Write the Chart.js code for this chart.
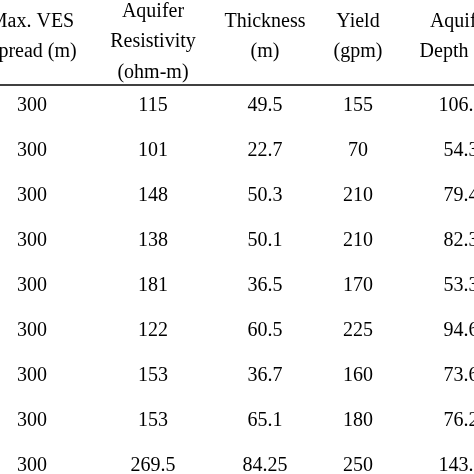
<!DOCTYPE html>
<html>
<head>
<script src="https://cdn.jsdelivr.net/npm/chart.js@4"></script>
<style>body{margin:0;background:#fff}</style>
</head>
<body>
<canvas id="tabla" width="474" height="474"></canvas>
<script>
// columnas de la tabla
const headers = [
  ["Max. VES", "Spread (m)"],
  ["Aquifer", "Resistivity", "(ohm-m)"],
  ["Thickness", "(m)"],
  ["Yield", "(gpm)"],
  ["Aquifer", "Depth (m)"],
];
const spread = ["300", "300", "300", "300", "300", "300", "300", "300", "300"];
const resistivity = ["115", "101", "148", "138", "181", "122", "153", "153", "269.5"];
const thickness = ["49.5", "22.7", "50.3", "50.1", "36.5", "60.5", "36.7", "65.1", "84.25"];
const yieldGpm = ["155", "70", "210", "210", "170", "225", "160", "180", "250"];
const depth = ["106.7", "54.3", "79.4", "82.3", "53.3", "94.6", "73.6", "76.2", "143.9"];

const columns = [spread, resistivity, thickness, yieldGpm, depth];
const colX = [32, 153, 265, 358, 461]; // centro de cada columna en px

const font = "20px 'Liberation Serif', 'DejaVu Serif', serif";

const textPlugin = {
  id: "textoTabla",
  afterDatasetsDraw(chart) {
    const ctx = chart.ctx;
    const xs = chart.scales.x, ys = chart.scales.y;
    ctx.save();
    ctx.font = font;
    ctx.fillStyle = "#000";
    ctx.textAlign = "center";
    ctx.textBaseline = "middle";
    chart.data.datasets.forEach((ds, i) => {
      chart.getDatasetMeta(i).data.forEach((pt, j) => {
        ctx.fillText(ds.labels[j], pt.x, pt.y);
      });
    });
    // encabezados
    headers.forEach((lines, c) => {
      const x = xs.getPixelForValue(colX[c]);
      const start = lines.length === 3 ? -2.09 : -1.87;
      lines.forEach((t, k) => {
        ctx.fillText(t, x, ys.getPixelForValue(start + k * 0.67));
      });
    });
    // línea bajo encabezado
    const yl = ys.getPixelForValue(-0.467);
    ctx.strokeStyle = "#000";
    ctx.lineWidth = 1.5;
    ctx.beginPath();
    ctx.moveTo(0, yl);
    ctx.lineTo(chart.width, yl);
    ctx.stroke();
    ctx.restore();
  },
};

new Chart(document.getElementById("tabla").getContext("2d"), {
  type: "scatter",
  data: {
    datasets: columns.map((col, c) => ({
      labels: col,
      data: col.map((v, r) => ({ x: colX[c], y: r })),
      pointRadius: 0,
    })),
  },
  options: {
    responsive: false,
    animation: false,
    layout: { padding: 0 },
    plugins: { legend: { display: false }, tooltip: { enabled: false } },
    scales: {
      x: { type: "linear", min: 0, max: 474, display: false },
      y: { type: "linear", min: -2.356, max: 8.178, reverse: true, display: false },
    },
  },
  plugins: [textPlugin],
});
</script>
</body>
</html>
